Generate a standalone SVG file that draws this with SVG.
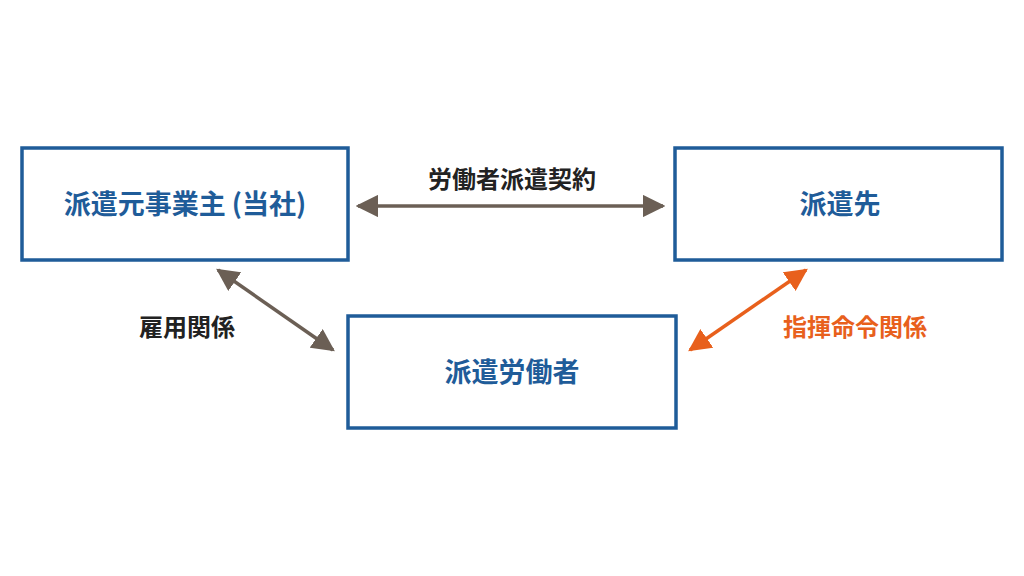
<svg xmlns="http://www.w3.org/2000/svg" width="1024" height="576" viewBox="0 0 1024 576">
<style>
.box{fill:#fff;stroke:#1f5c99;stroke-width:3.5}
.nt{font-family:"Noto Sans CJK JP",sans-serif;font-weight:bold;font-size:27px;fill:#1f5c99;text-anchor:middle}
.lb{font-family:"Noto Sans CJK JP",sans-serif;font-weight:bold;font-size:24px;text-anchor:middle}
.br{stroke:#6b5f55;stroke-width:3.5;fill:none}
.or{stroke:#e8601c;stroke-width:3.5;fill:none}
</style>
<defs>
<marker id="mb" viewBox="0 0 10 10" refX="9" refY="5" markerWidth="6.5" markerHeight="6.5" orient="auto-start-reverse" markerUnits="strokeWidth"><path d="M0,0L10,5L0,10z" fill="#6b5f55"/></marker>
<marker id="mo" viewBox="0 0 10 10" refX="9" refY="5" markerWidth="6.5" markerHeight="6.5" orient="auto-start-reverse" markerUnits="strokeWidth"><path d="M0,0L10,5L0,10z" fill="#e8601c"/></marker>
</defs>
<rect width="1024" height="576" fill="#fff"/>
<g id="n1"><rect class="box" x="22" y="148" width="326" height="112"/><text class="nt" x="185" y="214">派遣元事業主 (当社)</text></g>
<g id="n2"><rect class="box" x="675" y="148" width="327" height="112"/><text class="nt" x="840" y="214">派遣先</text></g>
<g id="n3"><rect class="box" x="348" y="316" width="328" height="112"/><text class="nt" x="512" y="382">派遣労働者</text></g>
<g id="connectors">
<line class="br" x1="358" y1="206" x2="663" y2="206" marker-start="url(#mb)" marker-end="url(#mb)"/>
<line class="br" x1="218" y1="270" x2="333" y2="350" marker-start="url(#mb)" marker-end="url(#mb)"/>
<line class="or" x1="806" y1="270" x2="690" y2="350" marker-start="url(#mo)" marker-end="url(#mo)"/>
</g>
<text class="lb" x="512" y="188" fill="#222">労働者派遣契約</text>
<text class="lb" x="187" y="336" fill="#222">雇用関係</text>
<text class="lb" x="855" y="336" fill="#e8601c">指揮命令関係</text>
</svg>
